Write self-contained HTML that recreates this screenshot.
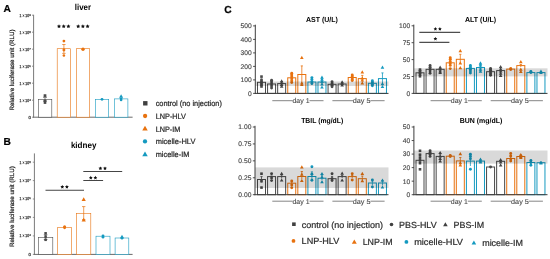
<!DOCTYPE html>
<html><head><meta charset="utf-8"><style>
html,body{margin:0;padding:0;background:#fff;width:550px;height:259px;overflow:hidden;}
svg{display:block;font-family:"Liberation Sans", sans-serif;will-change:transform;text-rendering:geometricPrecision;}
</style></head><body>
<svg width="550" height="259" viewBox="0 0 550 259" font-family="Liberation Sans, sans-serif">
<rect width="550" height="259" fill="#fff"/>
<text x="3.4" y="12.1" font-size="10.2" font-weight="bold" fill="#000" text-anchor="start" stroke="#000" stroke-width="0.2" >A</text>
<text x="74.8" y="10.0" font-size="8.6" font-weight="bold" fill="#000" text-anchor="start" textLength="16.2" lengthAdjust="spacingAndGlyphs" >liver</text>
<text transform="translate(13.6,69.9) rotate(-90)" font-size="6.2" fill="#222" stroke="#222" stroke-width="0.22" text-anchor="middle" textLength="81" lengthAdjust="spacingAndGlyphs">Relative luciferase unit (RLU)</text>
<line x1="33.6" y1="14.8" x2="33.6" y2="117.7" stroke="#7a7a7a" stroke-width="1"/>
<line x1="33.1" y1="117.2" x2="132.6" y2="117.2" stroke="#6a6a6a" stroke-width="1"/>
<line x1="32.0" y1="15.2" x2="33.6" y2="15.2" stroke="#7a7a7a" stroke-width="0.8"/>
<text x="19.6" y="16.65" font-size="4.3" fill="#444" stroke="#444" stroke-width="0.28" textLength="9.5" lengthAdjust="spacingAndGlyphs">1 × 10</text>
<text x="29.2" y="15.6" font-size="2.8" fill="#444" stroke="#444" stroke-width="0.22">9</text>
<line x1="32.0" y1="32.2" x2="33.6" y2="32.2" stroke="#7a7a7a" stroke-width="0.8"/>
<text x="19.6" y="33.650000000000006" font-size="4.3" fill="#444" stroke="#444" stroke-width="0.28" textLength="9.5" lengthAdjust="spacingAndGlyphs">1 × 10</text>
<text x="29.2" y="32.6" font-size="2.8" fill="#444" stroke="#444" stroke-width="0.22">8</text>
<line x1="32.0" y1="49.2" x2="33.6" y2="49.2" stroke="#7a7a7a" stroke-width="0.8"/>
<text x="19.6" y="50.650000000000006" font-size="4.3" fill="#444" stroke="#444" stroke-width="0.28" textLength="9.5" lengthAdjust="spacingAndGlyphs">1 × 10</text>
<text x="29.2" y="49.6" font-size="2.8" fill="#444" stroke="#444" stroke-width="0.22">7</text>
<line x1="32.0" y1="66.2" x2="33.6" y2="66.2" stroke="#7a7a7a" stroke-width="0.8"/>
<text x="19.6" y="67.65" font-size="4.3" fill="#444" stroke="#444" stroke-width="0.28" textLength="9.5" lengthAdjust="spacingAndGlyphs">1 × 10</text>
<text x="29.2" y="66.60000000000001" font-size="2.8" fill="#444" stroke="#444" stroke-width="0.22">6</text>
<line x1="32.0" y1="83.2" x2="33.6" y2="83.2" stroke="#7a7a7a" stroke-width="0.8"/>
<text x="19.6" y="84.65" font-size="4.3" fill="#444" stroke="#444" stroke-width="0.28" textLength="9.5" lengthAdjust="spacingAndGlyphs">1 × 10</text>
<text x="29.2" y="83.60000000000001" font-size="2.8" fill="#444" stroke="#444" stroke-width="0.22">5</text>
<line x1="32.0" y1="100.2" x2="33.6" y2="100.2" stroke="#7a7a7a" stroke-width="0.8"/>
<text x="19.6" y="101.65" font-size="4.3" fill="#444" stroke="#444" stroke-width="0.28" textLength="9.5" lengthAdjust="spacingAndGlyphs">1 × 10</text>
<text x="29.2" y="100.60000000000001" font-size="2.8" fill="#444" stroke="#444" stroke-width="0.22">4</text>
<line x1="32.0" y1="117.2" x2="33.6" y2="117.2" stroke="#7a7a7a" stroke-width="0.8"/>
<text x="30.8" y="118.60000000000001" font-size="4.3" fill="#444" stroke="#444" stroke-width="0.28" text-anchor="end">0</text>
<rect x="38.4" y="99.3" width="13.399999999999999" height="17.900000000000006" fill="#fff" stroke="#4a4a4a" stroke-width="0.6"/>
<rect x="57.2" y="48.7" width="13.399999999999991" height="68.5" fill="#fff" stroke="#E8720F" stroke-width="0.6"/>
<rect x="76.4" y="48.7" width="13.299999999999997" height="68.5" fill="#fff" stroke="#E8720F" stroke-width="0.6"/>
<rect x="95.4" y="99.3" width="13.299999999999997" height="17.900000000000006" fill="#fff" stroke="#159AC0" stroke-width="0.6"/>
<rect x="114.4" y="98.9" width="13.5" height="18.299999999999997" fill="#fff" stroke="#159AC0" stroke-width="0.6"/>
<line x1="63.9" y1="44.5" x2="63.9" y2="53.4" stroke="#E8720F" stroke-width="0.7"/>
<line x1="62.199999999999996" y1="44.5" x2="65.6" y2="44.5" stroke="#E8720F" stroke-width="0.7"/>
<line x1="62.199999999999996" y1="53.4" x2="65.6" y2="53.4" stroke="#E8720F" stroke-width="0.7"/>
<line x1="45.0" y1="97.3" x2="45.0" y2="101.0" stroke="#4a4a4a" stroke-width="0.7"/>
<line x1="43.0" y1="97.3" x2="47.0" y2="97.3" stroke="#4a4a4a" stroke-width="0.7"/>
<line x1="43.0" y1="101.0" x2="47.0" y2="101.0" stroke="#4a4a4a" stroke-width="0.7"/>
<rect x="43.65" y="94.25" width="2.7" height="2.7" fill="#4a4a4a"/>
<rect x="43.695" y="99.49499999999999" width="2.61" height="2.61" fill="#4a4a4a"/>
<rect x="43.695" y="101.29499999999999" width="2.61" height="2.61" fill="#4a4a4a"/>
<circle cx="63.9" cy="41.1" r="1.4" fill="#E8720F"/>
<circle cx="63.9" cy="50.0" r="1.45" fill="#E8720F"/>
<circle cx="63.9" cy="55.5" r="1.3" fill="#E8720F"/>
<circle cx="83.0" cy="49.2" r="1.7" fill="#E8720F"/>
<circle cx="102.0" cy="99.3" r="1.4" fill="#159AC0"/>
<polygon points="119.1,97.74 123.1,97.74 121.1,94.26" fill="#159AC0"/>
<circle cx="121.1" cy="98.8" r="1.4" fill="#159AC0"/>
<circle cx="121.1" cy="100.0" r="1.3" fill="#159AC0"/>
<polygon points="59.00,24.17 59.63,25.45 61.04,25.65 60.02,26.65 60.26,28.05 59.00,27.39 57.74,28.05 57.98,26.65 56.96,25.65 58.37,25.45" fill="#111"/>
<polygon points="63.70,24.17 64.33,25.45 65.74,25.65 64.72,26.65 64.96,28.05 63.70,27.39 62.44,28.05 62.68,26.65 61.66,25.65 63.07,25.45" fill="#111"/>
<polygon points="68.40,24.17 69.03,25.45 70.44,25.65 69.42,26.65 69.66,28.05 68.40,27.39 67.14,28.05 67.38,26.65 66.36,25.65 67.77,25.45" fill="#111"/>
<polygon points="78.20,24.17 78.83,25.45 80.24,25.65 79.22,26.65 79.46,28.05 78.20,27.39 76.94,28.05 77.18,26.65 76.16,25.65 77.57,25.45" fill="#111"/>
<polygon points="82.90,24.17 83.53,25.45 84.94,25.65 83.92,26.65 84.16,28.05 82.90,27.39 81.64,28.05 81.88,26.65 80.86,25.65 82.27,25.45" fill="#111"/>
<polygon points="87.60,24.17 88.23,25.45 89.64,25.65 88.62,26.65 88.86,28.05 87.60,27.39 86.34,28.05 86.58,26.65 85.56,25.65 86.97,25.45" fill="#111"/>
<text x="3.4" y="144.5" font-size="10.2" font-weight="bold" fill="#000" text-anchor="start" stroke="#000" stroke-width="0.2" >B</text>
<text x="70.9" y="147.7" font-size="8.6" font-weight="bold" fill="#000" text-anchor="start" textLength="25.5" lengthAdjust="spacingAndGlyphs" >kidney</text>
<text transform="translate(13.6,206.6) rotate(-90)" font-size="6.2" fill="#222" stroke="#222" stroke-width="0.22" text-anchor="middle" textLength="81" lengthAdjust="spacingAndGlyphs">Relative luciferase unit (RLU)</text>
<line x1="34.4" y1="153.4" x2="34.4" y2="254.9" stroke="#7a7a7a" stroke-width="1"/>
<line x1="33.9" y1="254.4" x2="132.6" y2="254.4" stroke="#6a6a6a" stroke-width="1"/>
<line x1="32.8" y1="162.2" x2="34.4" y2="162.2" stroke="#7a7a7a" stroke-width="0.8"/>
<text x="19.6" y="163.64999999999998" font-size="4.3" fill="#444" stroke="#444" stroke-width="0.28" textLength="9.5" lengthAdjust="spacingAndGlyphs">1 × 10</text>
<text x="29.2" y="162.6" font-size="2.8" fill="#444" stroke="#444" stroke-width="0.22">8</text>
<line x1="32.8" y1="180.6" x2="34.4" y2="180.6" stroke="#7a7a7a" stroke-width="0.8"/>
<text x="19.6" y="182.04999999999998" font-size="4.3" fill="#444" stroke="#444" stroke-width="0.28" textLength="9.5" lengthAdjust="spacingAndGlyphs">1 × 10</text>
<text x="29.2" y="181.0" font-size="2.8" fill="#444" stroke="#444" stroke-width="0.22">7</text>
<line x1="32.8" y1="199.0" x2="34.4" y2="199.0" stroke="#7a7a7a" stroke-width="0.8"/>
<text x="19.6" y="200.45" font-size="4.3" fill="#444" stroke="#444" stroke-width="0.28" textLength="9.5" lengthAdjust="spacingAndGlyphs">1 × 10</text>
<text x="29.2" y="199.4" font-size="2.8" fill="#444" stroke="#444" stroke-width="0.22">6</text>
<line x1="32.8" y1="217.4" x2="34.4" y2="217.4" stroke="#7a7a7a" stroke-width="0.8"/>
<text x="19.6" y="218.85" font-size="4.3" fill="#444" stroke="#444" stroke-width="0.28" textLength="9.5" lengthAdjust="spacingAndGlyphs">1 × 10</text>
<text x="29.2" y="217.8" font-size="2.8" fill="#444" stroke="#444" stroke-width="0.22">5</text>
<line x1="32.8" y1="235.9" x2="34.4" y2="235.9" stroke="#7a7a7a" stroke-width="0.8"/>
<text x="19.6" y="237.35" font-size="4.3" fill="#444" stroke="#444" stroke-width="0.28" textLength="9.5" lengthAdjust="spacingAndGlyphs">1 × 10</text>
<text x="29.2" y="236.3" font-size="2.8" fill="#444" stroke="#444" stroke-width="0.22">4</text>
<line x1="32.8" y1="254.4" x2="34.4" y2="254.4" stroke="#7a7a7a" stroke-width="0.8"/>
<text x="30.8" y="255.8" font-size="4.3" fill="#444" stroke="#444" stroke-width="0.28" text-anchor="end">0</text>
<rect x="38.5" y="237.5" width="14.299999999999997" height="16.900000000000006" fill="#fff" stroke="#4a4a4a" stroke-width="0.6"/>
<rect x="57.7" y="227.4" width="13.899999999999991" height="27.0" fill="#fff" stroke="#E8720F" stroke-width="0.6"/>
<rect x="76.6" y="213.3" width="14.200000000000003" height="41.099999999999994" fill="#fff" stroke="#E8720F" stroke-width="0.6"/>
<rect x="96.0" y="236.2" width="14.0" height="18.200000000000017" fill="#fff" stroke="#159AC0" stroke-width="0.6"/>
<rect x="115.1" y="238.0" width="13.700000000000017" height="16.400000000000006" fill="#fff" stroke="#159AC0" stroke-width="0.6"/>
<line x1="83.7" y1="206.6" x2="83.7" y2="219.6" stroke="#E8720F" stroke-width="0.7"/>
<line x1="82.0" y1="206.6" x2="85.4" y2="206.6" stroke="#E8720F" stroke-width="0.7"/>
<line x1="82.0" y1="219.6" x2="85.4" y2="219.6" stroke="#E8720F" stroke-width="0.7"/>
<line x1="45.6" y1="234.8" x2="45.6" y2="239.5" stroke="#4a4a4a" stroke-width="0.7"/>
<line x1="43.800000000000004" y1="234.8" x2="47.4" y2="234.8" stroke="#4a4a4a" stroke-width="0.7"/>
<line x1="43.800000000000004" y1="239.5" x2="47.4" y2="239.5" stroke="#4a4a4a" stroke-width="0.7"/>
<rect x="44.34" y="232.04000000000002" width="2.52" height="2.52" fill="#4a4a4a"/>
<rect x="44.34" y="235.34" width="2.52" height="2.52" fill="#4a4a4a"/>
<rect x="44.34" y="238.54000000000002" width="2.52" height="2.52" fill="#4a4a4a"/>
<circle cx="64.6" cy="226.8" r="1.5" fill="#E8720F"/>
<circle cx="64.6" cy="227.8" r="1.4" fill="#E8720F"/>
<polygon points="81.575,201.04874999999998 85.825,201.04874999999998 83.7,197.35125" fill="#E8720F"/>
<polygon points="81.575,221.44875 85.825,221.44875 83.7,217.75125" fill="#E8720F"/>
<circle cx="103.0" cy="236.0" r="1.45" fill="#159AC0"/>
<circle cx="103.0" cy="237.2" r="1.3" fill="#159AC0"/>
<polygon points="120.0,238.34 124.0,238.34 122.0,234.85999999999999" fill="#159AC0"/>
<circle cx="122.0" cy="238.2" r="1.3" fill="#159AC0"/>
<line x1="83.3" y1="171.5" x2="122.2" y2="171.5" stroke="#454545" stroke-width="1"/>
<polygon points="100.40,166.40 100.99,167.59 102.30,167.78 101.35,168.71 101.58,170.02 100.40,169.40 99.22,170.02 99.45,168.71 98.50,167.78 99.81,167.59" fill="#111"/>
<polygon points="105.00,166.40 105.59,167.59 106.90,167.78 105.95,168.71 106.18,170.02 105.00,169.40 103.82,170.02 104.05,168.71 103.10,167.78 104.41,167.59" fill="#111"/>
<line x1="83.3" y1="180.5" x2="103.1" y2="180.5" stroke="#454545" stroke-width="1"/>
<polygon points="90.80,175.80 91.39,176.99 92.70,177.18 91.75,178.11 91.98,179.42 90.80,178.80 89.62,179.42 89.85,178.11 88.90,177.18 90.21,176.99" fill="#111"/>
<polygon points="95.40,175.80 95.99,176.99 97.30,177.18 96.35,178.11 96.58,179.42 95.40,178.80 94.22,179.42 94.45,178.11 93.50,177.18 94.81,176.99" fill="#111"/>
<line x1="45.5" y1="190.25" x2="84.0" y2="190.25" stroke="#454545" stroke-width="1"/>
<polygon points="62.30,184.90 62.89,186.09 64.20,186.28 63.25,187.21 63.48,188.52 62.30,187.90 61.12,188.52 61.35,187.21 60.40,186.28 61.71,186.09" fill="#111"/>
<polygon points="66.90,184.90 67.49,186.09 68.80,186.28 67.85,187.21 68.08,188.52 66.90,187.90 65.72,188.52 65.95,187.21 65.00,186.28 66.31,186.09" fill="#111"/>
<rect x="143.10000000000002" y="101.1" width="4.4" height="4.4" fill="#404040"/>
<circle cx="145.1" cy="116.0" r="2.15" fill="#E8720F"/>
<polygon points="142.25,130.4925 147.75,130.4925 145.0,125.7075" fill="#E8720F"/>
<circle cx="145.0" cy="141.4" r="2.15" fill="#159AC0"/>
<polygon points="142.25,156.19250000000002 147.75,156.19250000000002 145.0,151.4075" fill="#159AC0"/>
<text x="155.7" y="106.2" font-size="7.7" font-weight="normal" fill="#2b2b2b" text-anchor="start" stroke="#2b2b2b" stroke-width="0.24" textLength="66.2" lengthAdjust="spacingAndGlyphs" >control (no injection)</text>
<text x="155.7" y="118.9" font-size="7.7" font-weight="normal" fill="#2b2b2b" text-anchor="start" stroke="#2b2b2b" stroke-width="0.24" textLength="30.3" lengthAdjust="spacingAndGlyphs" >LNP-HLV</text>
<text x="155.7" y="131.6" font-size="7.7" font-weight="normal" fill="#2b2b2b" text-anchor="start" stroke="#2b2b2b" stroke-width="0.24" textLength="24.7" lengthAdjust="spacingAndGlyphs" >LNP-IM</text>
<text x="155.7" y="144.3" font-size="7.7" font-weight="normal" fill="#2b2b2b" text-anchor="start" stroke="#2b2b2b" stroke-width="0.24" textLength="39.7" lengthAdjust="spacingAndGlyphs" >micelle-HLV</text>
<text x="155.7" y="156.9" font-size="7.7" font-weight="normal" fill="#2b2b2b" text-anchor="start" stroke="#2b2b2b" stroke-width="0.24" textLength="33.7" lengthAdjust="spacingAndGlyphs" >micelle-IM</text>
<text x="224.2" y="12.5" font-size="10.2" font-weight="bold" fill="#000" text-anchor="start" stroke="#000" stroke-width="0.2" >C</text>
<rect x="257.5" y="82.3" width="8.0" height="11.100000000000009" fill="#fff" stroke="#4a4a4a" stroke-width="1"/>
<rect x="267.58" y="84.0" width="8.0" height="9.400000000000006" fill="#fff" stroke="#4a4a4a" stroke-width="1"/>
<rect x="277.66" y="83.6" width="8.0" height="9.800000000000011" fill="#fff" stroke="#4a4a4a" stroke-width="1"/>
<rect x="287.74" y="77.8" width="8.0" height="15.600000000000009" fill="#fff" stroke="#E8720F" stroke-width="1"/>
<rect x="297.82" y="74.5" width="8.0" height="18.900000000000006" fill="#fff" stroke="#E8720F" stroke-width="1"/>
<rect x="307.9" y="82.0" width="8.0" height="11.400000000000006" fill="#fff" stroke="#159AC0" stroke-width="1"/>
<rect x="317.98" y="82.0" width="8.0" height="11.400000000000006" fill="#fff" stroke="#159AC0" stroke-width="1"/>
<rect x="328.06" y="84.3" width="8.0" height="9.100000000000009" fill="#fff" stroke="#4a4a4a" stroke-width="1"/>
<rect x="338.14" y="84.0" width="8.0" height="9.400000000000006" fill="#fff" stroke="#4a4a4a" stroke-width="1"/>
<rect x="348.22" y="77.5" width="8.0" height="15.900000000000006" fill="#fff" stroke="#E8720F" stroke-width="1"/>
<rect x="358.3" y="78.6" width="8.0" height="14.800000000000011" fill="#fff" stroke="#E8720F" stroke-width="1"/>
<rect x="368.38" y="83.3" width="8.0" height="10.100000000000009" fill="#fff" stroke="#159AC0" stroke-width="1"/>
<rect x="378.46000000000004" y="78.6" width="8.0" height="14.800000000000011" fill="#fff" stroke="#159AC0" stroke-width="1"/>
<line x1="261.5" y1="78.8" x2="261.5" y2="85.6" stroke="#4a4a4a" stroke-width="0.8"/>
<line x1="260.4" y1="78.8" x2="262.6" y2="78.8" stroke="#4a4a4a" stroke-width="0.8"/>
<line x1="271.58" y1="81" x2="271.58" y2="87" stroke="#4a4a4a" stroke-width="0.8"/>
<line x1="270.47999999999996" y1="81" x2="272.68" y2="81" stroke="#4a4a4a" stroke-width="0.8"/>
<line x1="281.66" y1="81.5" x2="281.66" y2="85.5" stroke="#4a4a4a" stroke-width="0.8"/>
<line x1="280.56" y1="81.5" x2="282.76000000000005" y2="81.5" stroke="#4a4a4a" stroke-width="0.8"/>
<line x1="291.74" y1="74.2" x2="291.74" y2="81.4" stroke="#E8720F" stroke-width="0.8"/>
<line x1="290.64" y1="74.2" x2="292.84000000000003" y2="74.2" stroke="#E8720F" stroke-width="0.8"/>
<line x1="301.82" y1="65.9" x2="301.82" y2="83" stroke="#E8720F" stroke-width="0.8"/>
<line x1="300.71999999999997" y1="65.9" x2="302.92" y2="65.9" stroke="#E8720F" stroke-width="0.8"/>
<line x1="311.9" y1="79" x2="311.9" y2="85" stroke="#159AC0" stroke-width="0.8"/>
<line x1="310.79999999999995" y1="79" x2="313.0" y2="79" stroke="#159AC0" stroke-width="0.8"/>
<line x1="321.98" y1="79" x2="321.98" y2="85" stroke="#159AC0" stroke-width="0.8"/>
<line x1="320.88" y1="79" x2="323.08000000000004" y2="79" stroke="#159AC0" stroke-width="0.8"/>
<line x1="332.06" y1="82.5" x2="332.06" y2="86" stroke="#4a4a4a" stroke-width="0.8"/>
<line x1="330.96" y1="82.5" x2="333.16" y2="82.5" stroke="#4a4a4a" stroke-width="0.8"/>
<line x1="342.14" y1="82.5" x2="342.14" y2="85.5" stroke="#4a4a4a" stroke-width="0.8"/>
<line x1="341.03999999999996" y1="82.5" x2="343.24" y2="82.5" stroke="#4a4a4a" stroke-width="0.8"/>
<line x1="352.22" y1="75.5" x2="352.22" y2="79.5" stroke="#E8720F" stroke-width="0.8"/>
<line x1="351.12" y1="75.5" x2="353.32000000000005" y2="75.5" stroke="#E8720F" stroke-width="0.8"/>
<line x1="362.3" y1="75.4" x2="362.3" y2="81.8" stroke="#E8720F" stroke-width="0.8"/>
<line x1="361.2" y1="75.4" x2="363.40000000000003" y2="75.4" stroke="#E8720F" stroke-width="0.8"/>
<line x1="372.38" y1="81.5" x2="372.38" y2="85" stroke="#159AC0" stroke-width="0.8"/>
<line x1="371.28" y1="81.5" x2="373.48" y2="81.5" stroke="#159AC0" stroke-width="0.8"/>
<line x1="382.46000000000004" y1="72.9" x2="382.46000000000004" y2="84.3" stroke="#159AC0" stroke-width="0.8"/>
<line x1="381.36" y1="72.9" x2="383.56000000000006" y2="72.9" stroke="#159AC0" stroke-width="0.8"/>
<rect x="260.195" y="75.29499999999999" width="2.61" height="2.61" fill="#4a4a4a"/>
<rect x="260.195" y="78.99499999999999" width="2.61" height="2.61" fill="#4a4a4a"/>
<rect x="260.195" y="80.49499999999999" width="2.61" height="2.61" fill="#4a4a4a"/>
<rect x="260.195" y="81.99499999999999" width="2.61" height="2.61" fill="#4a4a4a"/>
<rect x="260.195" y="83.49499999999999" width="2.61" height="2.61" fill="#4a4a4a"/>
<rect x="260.195" y="85.195" width="2.61" height="2.61" fill="#4a4a4a"/>
<circle cx="271.58" cy="80.3" r="1.45" fill="#4a4a4a"/>
<circle cx="271.58" cy="82.0" r="1.45" fill="#4a4a4a"/>
<circle cx="271.58" cy="84.0" r="1.45" fill="#4a4a4a"/>
<circle cx="271.58" cy="86.0" r="1.45" fill="#4a4a4a"/>
<circle cx="271.58" cy="88.0" r="1.45" fill="#4a4a4a"/>
<polygon points="279.8475,82.376875 283.4725,82.376875 281.66,79.223125" fill="#4a4a4a"/>
<polygon points="279.8475,84.176875 283.4725,84.176875 281.66,81.023125" fill="#4a4a4a"/>
<polygon points="279.8475,85.976875 283.4725,85.976875 281.66,82.823125" fill="#4a4a4a"/>
<polygon points="279.8475,87.776875 283.4725,87.776875 281.66,84.623125" fill="#4a4a4a"/>
<circle cx="291.74" cy="73.3" r="1.45" fill="#E8720F"/>
<circle cx="291.74" cy="75.0" r="1.45" fill="#E8720F"/>
<circle cx="291.74" cy="76.8" r="1.45" fill="#E8720F"/>
<circle cx="291.74" cy="78.8" r="1.45" fill="#E8720F"/>
<circle cx="291.74" cy="80.8" r="1.45" fill="#E8720F"/>
<circle cx="291.74" cy="82.5" r="1.45" fill="#E8720F"/>
<polygon points="300.0075,58.876875 303.6325,58.876875 301.82,55.723124999999996" fill="#E8720F"/>
<polygon points="300.0075,84.576875 303.6325,84.576875 301.82,81.423125" fill="#E8720F"/>
<polygon points="300.0075,86.076875 303.6325,86.076875 301.82,82.923125" fill="#E8720F"/>
<circle cx="311.9" cy="77.6" r="1.45" fill="#159AC0"/>
<circle cx="311.9" cy="79.5" r="1.45" fill="#159AC0"/>
<circle cx="311.9" cy="81.5" r="1.45" fill="#159AC0"/>
<circle cx="311.9" cy="83.5" r="1.45" fill="#159AC0"/>
<polygon points="320.1675,78.776875 323.7925,78.776875 321.98,75.623125" fill="#159AC0"/>
<polygon points="320.1675,80.776875 323.7925,80.776875 321.98,77.623125" fill="#159AC0"/>
<polygon points="320.1675,82.776875 323.7925,82.776875 321.98,79.623125" fill="#159AC0"/>
<polygon points="320.1675,85.576875 323.7925,85.576875 321.98,82.423125" fill="#159AC0"/>
<polygon points="320.1675,88.576875 323.7925,88.576875 321.98,85.423125" fill="#159AC0"/>
<circle cx="332.06" cy="81.8" r="1.45" fill="#4a4a4a"/>
<circle cx="332.06" cy="83.5" r="1.45" fill="#4a4a4a"/>
<circle cx="332.06" cy="85.2" r="1.45" fill="#4a4a4a"/>
<circle cx="332.06" cy="86.8" r="1.45" fill="#4a4a4a"/>
<polygon points="340.3275,83.376875 343.9525,83.376875 342.14,80.223125" fill="#4a4a4a"/>
<polygon points="340.3275,84.876875 343.9525,84.876875 342.14,81.723125" fill="#4a4a4a"/>
<polygon points="340.3275,86.576875 343.9525,86.576875 342.14,83.423125" fill="#4a4a4a"/>
<circle cx="352.22" cy="75.0" r="1.45" fill="#E8720F"/>
<circle cx="352.22" cy="76.5" r="1.45" fill="#E8720F"/>
<circle cx="352.22" cy="78.0" r="1.45" fill="#E8720F"/>
<circle cx="352.22" cy="79.5" r="1.45" fill="#E8720F"/>
<circle cx="352.22" cy="80.6" r="1.45" fill="#E8720F"/>
<polygon points="360.4875,73.476875 364.1125,73.476875 362.3,70.323125" fill="#E8720F"/>
<polygon points="360.4875,79.576875 364.1125,79.576875 362.3,76.423125" fill="#E8720F"/>
<polygon points="360.4875,81.576875 364.1125,81.576875 362.3,78.423125" fill="#E8720F"/>
<polygon points="360.4875,84.476875 364.1125,84.476875 362.3,81.323125" fill="#E8720F"/>
<circle cx="372.38" cy="80.8" r="1.45" fill="#159AC0"/>
<circle cx="372.38" cy="82.5" r="1.45" fill="#159AC0"/>
<circle cx="372.38" cy="84.3" r="1.45" fill="#159AC0"/>
<circle cx="372.38" cy="85.7" r="1.45" fill="#159AC0"/>
<polygon points="380.64750000000004,68.676875 384.27250000000004,68.676875 382.46000000000004,65.523125" fill="#159AC0"/>
<polygon points="380.64750000000004,85.176875 384.27250000000004,85.176875 382.46000000000004,82.023125" fill="#159AC0"/>
<polygon points="380.64750000000004,88.076875 384.27250000000004,88.076875 382.46000000000004,84.923125" fill="#159AC0"/>
<rect x="255.3" y="81.5" width="133.2" height="4.5" fill="#000" fill-opacity="0.15"/>
<line x1="255.3" y1="24.7" x2="255.3" y2="93.9" stroke="#3c3c3c" stroke-width="1"/>
<line x1="254.8" y1="93.4" x2="388.5" y2="93.4" stroke="#3c3c3c" stroke-width="1"/>
<line x1="253.10000000000002" y1="25.9" x2="255.3" y2="25.9" stroke="#3c3c3c" stroke-width="0.9"/>
<text x="251.70000000000002" y="28.25" font-size="6.7" font-weight="normal" fill="#4a4a4a" text-anchor="end" stroke="#4a4a4a" stroke-width="0.15" >500</text>
<line x1="253.10000000000002" y1="39.4" x2="255.3" y2="39.4" stroke="#3c3c3c" stroke-width="0.9"/>
<text x="251.70000000000002" y="41.75" font-size="6.7" font-weight="normal" fill="#4a4a4a" text-anchor="end" stroke="#4a4a4a" stroke-width="0.15" >400</text>
<line x1="253.10000000000002" y1="52.9" x2="255.3" y2="52.9" stroke="#3c3c3c" stroke-width="0.9"/>
<text x="251.70000000000002" y="55.25" font-size="6.7" font-weight="normal" fill="#4a4a4a" text-anchor="end" stroke="#4a4a4a" stroke-width="0.15" >300</text>
<line x1="253.10000000000002" y1="66.4" x2="255.3" y2="66.4" stroke="#3c3c3c" stroke-width="0.9"/>
<text x="251.70000000000002" y="68.75" font-size="6.7" font-weight="normal" fill="#4a4a4a" text-anchor="end" stroke="#4a4a4a" stroke-width="0.15" >200</text>
<line x1="253.10000000000002" y1="79.9" x2="255.3" y2="79.9" stroke="#3c3c3c" stroke-width="0.9"/>
<text x="251.70000000000002" y="82.25" font-size="6.7" font-weight="normal" fill="#4a4a4a" text-anchor="end" stroke="#4a4a4a" stroke-width="0.15" >100</text>
<line x1="253.10000000000002" y1="93.4" x2="255.3" y2="93.4" stroke="#3c3c3c" stroke-width="0.9"/>
<text x="251.70000000000002" y="95.75" font-size="6.7" font-weight="normal" fill="#4a4a4a" text-anchor="end" stroke="#4a4a4a" stroke-width="0.15" >0</text>
<line x1="272.3" y1="100.7" x2="292.8" y2="100.7" stroke="#666" stroke-width="0.8"/>
<line x1="309.5" y1="100.7" x2="323.5" y2="100.7" stroke="#666" stroke-width="0.8"/>
<text x="292.5" y="103.10000000000001" font-size="7" font-weight="normal" fill="#4a4a4a" text-anchor="start" stroke="#4a4a4a" stroke-width="0.12" textLength="17.0" lengthAdjust="spacingAndGlyphs" >day 1</text>
<line x1="332.4" y1="100.7" x2="353.1" y2="100.7" stroke="#666" stroke-width="0.8"/>
<line x1="370.5" y1="100.7" x2="384.6" y2="100.7" stroke="#666" stroke-width="0.8"/>
<text x="352.8" y="103.10000000000001" font-size="7" font-weight="normal" fill="#4a4a4a" text-anchor="start" stroke="#4a4a4a" stroke-width="0.12" textLength="17.69999999999999" lengthAdjust="spacingAndGlyphs" >day 5</text>
<rect x="416.0" y="72.8" width="8.0" height="20.60000000000001" fill="#fff" stroke="#4a4a4a" stroke-width="1"/>
<rect x="426.08" y="69.3" width="8.0" height="24.10000000000001" fill="#fff" stroke="#4a4a4a" stroke-width="1"/>
<rect x="436.16" y="69.3" width="8.0" height="24.10000000000001" fill="#fff" stroke="#4a4a4a" stroke-width="1"/>
<rect x="446.24" y="62.8" width="8.0" height="30.60000000000001" fill="#fff" stroke="#E8720F" stroke-width="1"/>
<rect x="456.32" y="59.3" width="8.0" height="34.10000000000001" fill="#fff" stroke="#E8720F" stroke-width="1"/>
<rect x="466.4" y="68.4" width="8.0" height="25.0" fill="#fff" stroke="#159AC0" stroke-width="1"/>
<rect x="476.48" y="67.5" width="8.0" height="25.900000000000006" fill="#fff" stroke="#159AC0" stroke-width="1"/>
<rect x="486.56" y="71.7" width="8.0" height="21.700000000000003" fill="#fff" stroke="#4a4a4a" stroke-width="1"/>
<rect x="496.64" y="70.6" width="8.0" height="22.80000000000001" fill="#fff" stroke="#4a4a4a" stroke-width="1"/>
<rect x="506.72" y="69.1" width="8.0" height="24.30000000000001" fill="#fff" stroke="#E8720F" stroke-width="1"/>
<rect x="516.8" y="65.6" width="8.0" height="27.80000000000001" fill="#fff" stroke="#E8720F" stroke-width="1"/>
<rect x="526.88" y="72.6" width="8.0" height="20.80000000000001" fill="#fff" stroke="#159AC0" stroke-width="1"/>
<rect x="536.96" y="72.6" width="8.0" height="20.80000000000001" fill="#fff" stroke="#159AC0" stroke-width="1"/>
<line x1="420.0" y1="70.5" x2="420.0" y2="75" stroke="#4a4a4a" stroke-width="0.8"/>
<line x1="418.9" y1="70.5" x2="421.1" y2="70.5" stroke="#4a4a4a" stroke-width="0.8"/>
<line x1="430.08" y1="67" x2="430.08" y2="71.5" stroke="#4a4a4a" stroke-width="0.8"/>
<line x1="428.97999999999996" y1="67" x2="431.18" y2="67" stroke="#4a4a4a" stroke-width="0.8"/>
<line x1="440.16" y1="68" x2="440.16" y2="71" stroke="#4a4a4a" stroke-width="0.8"/>
<line x1="439.06" y1="68" x2="441.26000000000005" y2="68" stroke="#4a4a4a" stroke-width="0.8"/>
<line x1="450.24" y1="59.5" x2="450.24" y2="66" stroke="#E8720F" stroke-width="0.8"/>
<line x1="449.14" y1="59.5" x2="451.34000000000003" y2="59.5" stroke="#E8720F" stroke-width="0.8"/>
<line x1="460.32" y1="54.3" x2="460.32" y2="64" stroke="#E8720F" stroke-width="0.8"/>
<line x1="459.21999999999997" y1="54.3" x2="461.42" y2="54.3" stroke="#E8720F" stroke-width="0.8"/>
<line x1="470.4" y1="66.5" x2="470.4" y2="70.5" stroke="#159AC0" stroke-width="0.8"/>
<line x1="469.29999999999995" y1="66.5" x2="471.5" y2="66.5" stroke="#159AC0" stroke-width="0.8"/>
<line x1="480.48" y1="64.5" x2="480.48" y2="70.5" stroke="#159AC0" stroke-width="0.8"/>
<line x1="479.38" y1="64.5" x2="481.58000000000004" y2="64.5" stroke="#159AC0" stroke-width="0.8"/>
<line x1="490.56" y1="69.5" x2="490.56" y2="74" stroke="#4a4a4a" stroke-width="0.8"/>
<line x1="489.46" y1="69.5" x2="491.66" y2="69.5" stroke="#4a4a4a" stroke-width="0.8"/>
<line x1="500.64" y1="67.5" x2="500.64" y2="73.5" stroke="#4a4a4a" stroke-width="0.8"/>
<line x1="499.53999999999996" y1="67.5" x2="501.74" y2="67.5" stroke="#4a4a4a" stroke-width="0.8"/>
<line x1="510.72" y1="68.5" x2="510.72" y2="70" stroke="#E8720F" stroke-width="0.8"/>
<line x1="509.62" y1="68.5" x2="511.82000000000005" y2="68.5" stroke="#E8720F" stroke-width="0.8"/>
<line x1="520.8" y1="64.5" x2="520.8" y2="67" stroke="#E8720F" stroke-width="0.8"/>
<line x1="519.6999999999999" y1="64.5" x2="521.9" y2="64.5" stroke="#E8720F" stroke-width="0.8"/>
<line x1="530.88" y1="71.5" x2="530.88" y2="73.5" stroke="#159AC0" stroke-width="0.8"/>
<line x1="529.78" y1="71.5" x2="531.98" y2="71.5" stroke="#159AC0" stroke-width="0.8"/>
<line x1="540.96" y1="71.5" x2="540.96" y2="73.5" stroke="#159AC0" stroke-width="0.8"/>
<line x1="539.86" y1="71.5" x2="542.0600000000001" y2="71.5" stroke="#159AC0" stroke-width="0.8"/>
<rect x="418.695" y="68.29499999999999" width="2.61" height="2.61" fill="#4a4a4a"/>
<rect x="418.695" y="69.895" width="2.61" height="2.61" fill="#4a4a4a"/>
<rect x="418.695" y="71.49499999999999" width="2.61" height="2.61" fill="#4a4a4a"/>
<rect x="418.695" y="73.195" width="2.61" height="2.61" fill="#4a4a4a"/>
<rect x="418.695" y="74.99499999999999" width="2.61" height="2.61" fill="#4a4a4a"/>
<circle cx="430.08" cy="65.4" r="1.45" fill="#4a4a4a"/>
<circle cx="430.08" cy="67.2" r="1.45" fill="#4a4a4a"/>
<circle cx="430.08" cy="69.0" r="1.45" fill="#4a4a4a"/>
<circle cx="430.08" cy="71.0" r="1.45" fill="#4a4a4a"/>
<circle cx="430.08" cy="73.2" r="1.45" fill="#4a4a4a"/>
<polygon points="438.3475,68.676875 441.9725,68.676875 440.16,65.523125" fill="#4a4a4a"/>
<polygon points="438.3475,70.576875 441.9725,70.576875 440.16,67.423125" fill="#4a4a4a"/>
<polygon points="438.3475,72.376875 441.9725,72.376875 440.16,69.223125" fill="#4a4a4a"/>
<polygon points="438.3475,73.976875 441.9725,73.976875 440.16,70.823125" fill="#4a4a4a"/>
<circle cx="450.24" cy="57.7" r="1.45" fill="#E8720F"/>
<circle cx="450.24" cy="59.3" r="1.45" fill="#E8720F"/>
<circle cx="450.24" cy="61.5" r="1.45" fill="#E8720F"/>
<circle cx="450.24" cy="63.5" r="1.45" fill="#E8720F"/>
<circle cx="450.24" cy="65.4" r="1.45" fill="#E8720F"/>
<circle cx="450.24" cy="68.6" r="1.45" fill="#E8720F"/>
<polygon points="458.5075,52.276875000000004 462.1325,52.276875000000004 460.32,49.123125" fill="#E8720F"/>
<polygon points="458.5075,64.376875 462.1325,64.376875 460.32,61.223124999999996" fill="#E8720F"/>
<polygon points="458.5075,69.276875 462.1325,69.276875 460.32,66.123125" fill="#E8720F"/>
<circle cx="470.4" cy="65.4" r="1.45" fill="#159AC0"/>
<circle cx="470.4" cy="67.3" r="1.45" fill="#159AC0"/>
<circle cx="470.4" cy="69.2" r="1.45" fill="#159AC0"/>
<circle cx="470.4" cy="71.0" r="1.45" fill="#159AC0"/>
<circle cx="470.4" cy="73.0" r="1.45" fill="#159AC0"/>
<polygon points="478.6675,64.376875 482.2925,64.376875 480.48,61.223124999999996" fill="#159AC0"/>
<polygon points="478.6675,66.376875 482.2925,66.376875 480.48,63.223124999999996" fill="#159AC0"/>
<polygon points="478.6675,68.576875 482.2925,68.576875 480.48,65.423125" fill="#159AC0"/>
<polygon points="478.6675,70.776875 482.2925,70.776875 480.48,67.623125" fill="#159AC0"/>
<polygon points="478.6675,72.676875 482.2925,72.676875 480.48,69.523125" fill="#159AC0"/>
<circle cx="490.56" cy="68.5" r="1.45" fill="#4a4a4a"/>
<circle cx="490.56" cy="70.2" r="1.45" fill="#4a4a4a"/>
<circle cx="490.56" cy="72.0" r="1.45" fill="#4a4a4a"/>
<circle cx="490.56" cy="73.7" r="1.45" fill="#4a4a4a"/>
<circle cx="490.56" cy="75.3" r="1.45" fill="#4a4a4a"/>
<polygon points="498.8275,68.276875 502.4525,68.276875 500.64,65.123125" fill="#4a4a4a"/>
<polygon points="498.8275,70.576875 502.4525,70.576875 500.64,67.423125" fill="#4a4a4a"/>
<polygon points="498.8275,72.576875 502.4525,72.576875 500.64,69.423125" fill="#4a4a4a"/>
<polygon points="498.8275,74.776875 502.4525,74.776875 500.64,71.623125" fill="#4a4a4a"/>
<polygon points="498.8275,76.876875 502.4525,76.876875 500.64,73.723125" fill="#4a4a4a"/>
<circle cx="510.72" cy="68.5" r="1.45" fill="#E8720F"/>
<circle cx="510.72" cy="69.5" r="1.45" fill="#E8720F"/>
<polygon points="518.9875,63.176875 522.6125,63.176875 520.8,60.023125" fill="#E8720F"/>
<polygon points="518.9875,70.676875 522.6125,70.676875 520.8,67.523125" fill="#E8720F"/>
<polygon points="518.9875,72.976875 522.6125,72.976875 520.8,69.823125" fill="#E8720F"/>
<circle cx="530.88" cy="71.4" r="1.45" fill="#159AC0"/>
<circle cx="530.88" cy="72.5" r="1.45" fill="#159AC0"/>
<polygon points="539.1475,72.676875 542.7725,72.676875 540.96,69.523125" fill="#159AC0"/>
<polygon points="539.1475,74.076875 542.7725,74.076875 540.96,70.923125" fill="#159AC0"/>
<rect x="413.8" y="68.3" width="133.7" height="8.100000000000009" fill="#000" fill-opacity="0.15"/>
<line x1="413.8" y1="24.6" x2="413.8" y2="93.9" stroke="#3c3c3c" stroke-width="1"/>
<line x1="413.3" y1="93.4" x2="547.5" y2="93.4" stroke="#3c3c3c" stroke-width="1"/>
<line x1="411.6" y1="25.8" x2="413.8" y2="25.8" stroke="#3c3c3c" stroke-width="0.9"/>
<text x="410.2" y="28.150000000000002" font-size="6.7" font-weight="normal" fill="#4a4a4a" text-anchor="end" stroke="#4a4a4a" stroke-width="0.15" >100</text>
<line x1="411.6" y1="42.7" x2="413.8" y2="42.7" stroke="#3c3c3c" stroke-width="0.9"/>
<text x="410.2" y="45.050000000000004" font-size="6.7" font-weight="normal" fill="#4a4a4a" text-anchor="end" stroke="#4a4a4a" stroke-width="0.15" >75</text>
<line x1="411.6" y1="59.60000000000001" x2="413.8" y2="59.60000000000001" stroke="#3c3c3c" stroke-width="0.9"/>
<text x="410.2" y="61.95000000000001" font-size="6.7" font-weight="normal" fill="#4a4a4a" text-anchor="end" stroke="#4a4a4a" stroke-width="0.15" >50</text>
<line x1="411.6" y1="76.5" x2="413.8" y2="76.5" stroke="#3c3c3c" stroke-width="0.9"/>
<text x="410.2" y="78.85" font-size="6.7" font-weight="normal" fill="#4a4a4a" text-anchor="end" stroke="#4a4a4a" stroke-width="0.15" >25</text>
<line x1="411.6" y1="93.4" x2="413.8" y2="93.4" stroke="#3c3c3c" stroke-width="0.9"/>
<text x="410.2" y="95.75" font-size="6.7" font-weight="normal" fill="#4a4a4a" text-anchor="end" stroke="#4a4a4a" stroke-width="0.15" >0</text>
<line x1="430.6" y1="100.7" x2="451.1" y2="100.7" stroke="#666" stroke-width="0.8"/>
<line x1="467.8" y1="100.7" x2="481.8" y2="100.7" stroke="#666" stroke-width="0.8"/>
<text x="450.8" y="103.10000000000001" font-size="7" font-weight="normal" fill="#4a4a4a" text-anchor="start" stroke="#4a4a4a" stroke-width="0.12" textLength="17.0" lengthAdjust="spacingAndGlyphs" >day 1</text>
<line x1="490.7" y1="100.7" x2="511.40000000000003" y2="100.7" stroke="#666" stroke-width="0.8"/>
<line x1="528.8" y1="100.7" x2="542.9000000000001" y2="100.7" stroke="#666" stroke-width="0.8"/>
<text x="511.1" y="103.10000000000001" font-size="7" font-weight="normal" fill="#4a4a4a" text-anchor="start" stroke="#4a4a4a" stroke-width="0.12" textLength="17.69999999999999" lengthAdjust="spacingAndGlyphs" >day 5</text>
<rect x="257.5" y="179.5" width="8.0" height="15.199999999999989" fill="#fff" stroke="#4a4a4a" stroke-width="1"/>
<rect x="267.58" y="176.6" width="8.0" height="18.099999999999994" fill="#fff" stroke="#4a4a4a" stroke-width="1"/>
<rect x="277.66" y="176.6" width="8.0" height="18.099999999999994" fill="#fff" stroke="#4a4a4a" stroke-width="1"/>
<rect x="287.74" y="183.2" width="8.0" height="11.5" fill="#fff" stroke="#E8720F" stroke-width="1"/>
<rect x="297.82" y="176.5" width="8.0" height="18.19999999999999" fill="#fff" stroke="#E8720F" stroke-width="1"/>
<rect x="307.9" y="176.5" width="8.0" height="18.19999999999999" fill="#fff" stroke="#159AC0" stroke-width="1"/>
<rect x="317.98" y="178.2" width="8.0" height="16.5" fill="#fff" stroke="#159AC0" stroke-width="1"/>
<rect x="328.06" y="178.7" width="8.0" height="16.0" fill="#fff" stroke="#4a4a4a" stroke-width="1"/>
<rect x="338.14" y="176.6" width="8.0" height="18.099999999999994" fill="#fff" stroke="#4a4a4a" stroke-width="1"/>
<rect x="348.22" y="176.6" width="8.0" height="18.099999999999994" fill="#fff" stroke="#E8720F" stroke-width="1"/>
<rect x="358.3" y="178.7" width="8.0" height="16.0" fill="#fff" stroke="#E8720F" stroke-width="1"/>
<rect x="368.38" y="183.0" width="8.0" height="11.699999999999989" fill="#fff" stroke="#159AC0" stroke-width="1"/>
<rect x="378.46000000000004" y="183.0" width="8.0" height="11.699999999999989" fill="#fff" stroke="#159AC0" stroke-width="1"/>
<line x1="261.5" y1="176.6" x2="261.5" y2="182.4" stroke="#4a4a4a" stroke-width="0.8"/>
<line x1="260.4" y1="176.6" x2="262.6" y2="176.6" stroke="#4a4a4a" stroke-width="0.8"/>
<line x1="271.58" y1="176" x2="271.58" y2="178.5" stroke="#4a4a4a" stroke-width="0.8"/>
<line x1="270.47999999999996" y1="176" x2="272.68" y2="176" stroke="#4a4a4a" stroke-width="0.8"/>
<line x1="281.66" y1="175" x2="281.66" y2="178.5" stroke="#4a4a4a" stroke-width="0.8"/>
<line x1="280.56" y1="175" x2="282.76000000000005" y2="175" stroke="#4a4a4a" stroke-width="0.8"/>
<line x1="291.74" y1="182" x2="291.74" y2="185" stroke="#E8720F" stroke-width="0.8"/>
<line x1="290.64" y1="182" x2="292.84000000000003" y2="182" stroke="#E8720F" stroke-width="0.8"/>
<line x1="301.82" y1="171.5" x2="301.82" y2="179" stroke="#E8720F" stroke-width="0.8"/>
<line x1="300.71999999999997" y1="171.5" x2="302.92" y2="171.5" stroke="#E8720F" stroke-width="0.8"/>
<line x1="311.9" y1="171.9" x2="311.9" y2="179" stroke="#159AC0" stroke-width="0.8"/>
<line x1="310.79999999999995" y1="171.9" x2="313.0" y2="171.9" stroke="#159AC0" stroke-width="0.8"/>
<line x1="321.98" y1="175" x2="321.98" y2="180" stroke="#159AC0" stroke-width="0.8"/>
<line x1="320.88" y1="175" x2="323.08000000000004" y2="175" stroke="#159AC0" stroke-width="0.8"/>
<line x1="332.06" y1="176.6" x2="332.06" y2="180" stroke="#4a4a4a" stroke-width="0.8"/>
<line x1="330.96" y1="176.6" x2="333.16" y2="176.6" stroke="#4a4a4a" stroke-width="0.8"/>
<line x1="342.14" y1="175.4" x2="342.14" y2="178" stroke="#4a4a4a" stroke-width="0.8"/>
<line x1="341.03999999999996" y1="175.4" x2="343.24" y2="175.4" stroke="#4a4a4a" stroke-width="0.8"/>
<line x1="352.22" y1="175.5" x2="352.22" y2="178" stroke="#E8720F" stroke-width="0.8"/>
<line x1="351.12" y1="175.5" x2="353.32000000000005" y2="175.5" stroke="#E8720F" stroke-width="0.8"/>
<line x1="362.3" y1="176" x2="362.3" y2="180" stroke="#E8720F" stroke-width="0.8"/>
<line x1="361.2" y1="176" x2="363.40000000000003" y2="176" stroke="#E8720F" stroke-width="0.8"/>
<line x1="372.38" y1="181" x2="372.38" y2="185.5" stroke="#159AC0" stroke-width="0.8"/>
<line x1="371.28" y1="181" x2="373.48" y2="181" stroke="#159AC0" stroke-width="0.8"/>
<line x1="382.46000000000004" y1="181" x2="382.46000000000004" y2="185.5" stroke="#159AC0" stroke-width="0.8"/>
<line x1="381.36" y1="181" x2="383.56000000000006" y2="181" stroke="#159AC0" stroke-width="0.8"/>
<rect x="260.195" y="172.39499999999998" width="2.61" height="2.61" fill="#4a4a4a"/>
<rect x="260.195" y="179.89499999999998" width="2.61" height="2.61" fill="#4a4a4a"/>
<rect x="260.195" y="186.295" width="2.61" height="2.61" fill="#4a4a4a"/>
<circle cx="271.58" cy="173.7" r="1.45" fill="#4a4a4a"/>
<circle cx="271.58" cy="178.0" r="1.45" fill="#4a4a4a"/>
<circle cx="271.58" cy="180.6" r="1.45" fill="#4a4a4a"/>
<polygon points="279.8475,174.876875 283.4725,174.876875 281.66,171.723125" fill="#4a4a4a"/>
<polygon points="279.8475,181.576875 283.4725,181.576875 281.66,178.423125" fill="#4a4a4a"/>
<circle cx="291.74" cy="181.0" r="1.45" fill="#E8720F"/>
<circle cx="291.74" cy="185.0" r="1.45" fill="#E8720F"/>
<circle cx="291.74" cy="187.7" r="1.45" fill="#E8720F"/>
<polygon points="300.0075,168.376875 303.6325,168.376875 301.82,165.223125" fill="#E8720F"/>
<polygon points="300.0075,175.776875 303.6325,175.776875 301.82,172.623125" fill="#E8720F"/>
<polygon points="300.0075,181.876875 303.6325,181.876875 301.82,178.723125" fill="#E8720F"/>
<circle cx="311.9" cy="166.8" r="1.45" fill="#159AC0"/>
<circle cx="311.9" cy="174.2" r="1.45" fill="#159AC0"/>
<circle cx="311.9" cy="180.3" r="1.45" fill="#159AC0"/>
<polygon points="320.1675,175.076875 323.7925,175.076875 321.98,171.923125" fill="#159AC0"/>
<polygon points="320.1675,178.476875 323.7925,178.476875 321.98,175.323125" fill="#159AC0"/>
<polygon points="320.1675,183.176875 323.7925,183.176875 321.98,180.023125" fill="#159AC0"/>
<circle cx="332.06" cy="173.7" r="1.45" fill="#4a4a4a"/>
<circle cx="332.06" cy="178.7" r="1.45" fill="#4a4a4a"/>
<circle cx="332.06" cy="180.6" r="1.45" fill="#4a4a4a"/>
<polygon points="340.3275,174.676875 343.9525,174.676875 342.14,171.523125" fill="#4a4a4a"/>
<polygon points="340.3275,181.576875 343.9525,181.576875 342.14,178.423125" fill="#4a4a4a"/>
<circle cx="352.22" cy="173.7" r="1.45" fill="#E8720F"/>
<circle cx="352.22" cy="180.0" r="1.45" fill="#E8720F"/>
<polygon points="360.4875,174.876875 364.1125,174.876875 362.3,171.723125" fill="#E8720F"/>
<polygon points="360.4875,182.176875 364.1125,182.176875 362.3,179.023125" fill="#E8720F"/>
<circle cx="372.38" cy="180.0" r="1.45" fill="#159AC0"/>
<circle cx="372.38" cy="187.0" r="1.45" fill="#159AC0"/>
<polygon points="380.64750000000004,181.576875 384.27250000000004,181.576875 382.46000000000004,178.423125" fill="#159AC0"/>
<polygon points="380.64750000000004,188.576875 384.27250000000004,188.576875 382.46000000000004,185.423125" fill="#159AC0"/>
<rect x="255.0" y="167.4" width="133.5" height="20.599999999999994" fill="#000" fill-opacity="0.15"/>
<line x1="255.0" y1="125.8" x2="255.0" y2="195.2" stroke="#3c3c3c" stroke-width="1"/>
<line x1="254.5" y1="194.7" x2="388.5" y2="194.7" stroke="#3c3c3c" stroke-width="1"/>
<line x1="252.8" y1="127.0" x2="255.0" y2="127.0" stroke="#3c3c3c" stroke-width="0.9"/>
<text x="251.4" y="129.35" font-size="6.7" font-weight="normal" fill="#4a4a4a" text-anchor="end" stroke="#4a4a4a" stroke-width="0.15" >1.00</text>
<line x1="252.8" y1="143.925" x2="255.0" y2="143.925" stroke="#3c3c3c" stroke-width="0.9"/>
<text x="251.4" y="146.275" font-size="6.7" font-weight="normal" fill="#4a4a4a" text-anchor="end" stroke="#4a4a4a" stroke-width="0.15" >0.75</text>
<line x1="252.8" y1="160.85" x2="255.0" y2="160.85" stroke="#3c3c3c" stroke-width="0.9"/>
<text x="251.4" y="163.2" font-size="6.7" font-weight="normal" fill="#4a4a4a" text-anchor="end" stroke="#4a4a4a" stroke-width="0.15" >0.50</text>
<line x1="252.8" y1="177.77499999999998" x2="255.0" y2="177.77499999999998" stroke="#3c3c3c" stroke-width="0.9"/>
<text x="251.4" y="180.12499999999997" font-size="6.7" font-weight="normal" fill="#4a4a4a" text-anchor="end" stroke="#4a4a4a" stroke-width="0.15" >0.25</text>
<line x1="252.8" y1="194.7" x2="255.0" y2="194.7" stroke="#3c3c3c" stroke-width="0.9"/>
<text x="251.4" y="197.04999999999998" font-size="6.7" font-weight="normal" fill="#4a4a4a" text-anchor="end" stroke="#4a4a4a" stroke-width="0.15" >0.00</text>
<line x1="272.3" y1="201.2" x2="292.8" y2="201.2" stroke="#666" stroke-width="0.8"/>
<line x1="309.5" y1="201.2" x2="323.5" y2="201.2" stroke="#666" stroke-width="0.8"/>
<text x="292.5" y="203.6" font-size="7" font-weight="normal" fill="#4a4a4a" text-anchor="start" stroke="#4a4a4a" stroke-width="0.12" textLength="17.0" lengthAdjust="spacingAndGlyphs" >day 1</text>
<line x1="332.4" y1="201.2" x2="353.1" y2="201.2" stroke="#666" stroke-width="0.8"/>
<line x1="370.5" y1="201.2" x2="384.6" y2="201.2" stroke="#666" stroke-width="0.8"/>
<text x="352.8" y="203.6" font-size="7" font-weight="normal" fill="#4a4a4a" text-anchor="start" stroke="#4a4a4a" stroke-width="0.12" textLength="17.69999999999999" lengthAdjust="spacingAndGlyphs" >day 5</text>
<rect x="416.0" y="160.3" width="8.0" height="34.39999999999998" fill="#fff" stroke="#4a4a4a" stroke-width="1"/>
<rect x="426.08" y="153.6" width="8.0" height="41.099999999999994" fill="#fff" stroke="#4a4a4a" stroke-width="1"/>
<rect x="436.16" y="156.4" width="8.0" height="38.29999999999998" fill="#fff" stroke="#4a4a4a" stroke-width="1"/>
<rect x="446.24" y="156.2" width="8.0" height="38.5" fill="#fff" stroke="#E8720F" stroke-width="1"/>
<rect x="456.32" y="160.9" width="8.0" height="33.79999999999998" fill="#fff" stroke="#E8720F" stroke-width="1"/>
<rect x="466.4" y="161.1" width="8.0" height="33.599999999999994" fill="#fff" stroke="#159AC0" stroke-width="1"/>
<rect x="476.48" y="161.1" width="8.0" height="33.599999999999994" fill="#fff" stroke="#159AC0" stroke-width="1"/>
<rect x="486.56" y="167.0" width="8.0" height="27.69999999999999" fill="#fff" stroke="#4a4a4a" stroke-width="1"/>
<rect x="496.64" y="161.3" width="8.0" height="33.39999999999998" fill="#fff" stroke="#4a4a4a" stroke-width="1"/>
<rect x="506.72" y="158.5" width="8.0" height="36.19999999999999" fill="#fff" stroke="#E8720F" stroke-width="1"/>
<rect x="516.8" y="156.5" width="8.0" height="38.19999999999999" fill="#fff" stroke="#E8720F" stroke-width="1"/>
<rect x="526.88" y="162.5" width="8.0" height="32.19999999999999" fill="#fff" stroke="#159AC0" stroke-width="1"/>
<rect x="536.96" y="162.7" width="8.0" height="32.0" fill="#fff" stroke="#159AC0" stroke-width="1"/>
<line x1="420.0" y1="154.5" x2="420.0" y2="164" stroke="#4a4a4a" stroke-width="0.8"/>
<line x1="418.9" y1="154.5" x2="421.1" y2="154.5" stroke="#4a4a4a" stroke-width="0.8"/>
<line x1="430.08" y1="152" x2="430.08" y2="155" stroke="#4a4a4a" stroke-width="0.8"/>
<line x1="428.97999999999996" y1="152" x2="431.18" y2="152" stroke="#4a4a4a" stroke-width="0.8"/>
<line x1="440.16" y1="154" x2="440.16" y2="159" stroke="#4a4a4a" stroke-width="0.8"/>
<line x1="439.06" y1="154" x2="441.26000000000005" y2="154" stroke="#4a4a4a" stroke-width="0.8"/>
<line x1="450.24" y1="155.5" x2="450.24" y2="157" stroke="#E8720F" stroke-width="0.8"/>
<line x1="449.14" y1="155.5" x2="451.34000000000003" y2="155.5" stroke="#E8720F" stroke-width="0.8"/>
<line x1="460.32" y1="157.5" x2="460.32" y2="164" stroke="#E8720F" stroke-width="0.8"/>
<line x1="459.21999999999997" y1="157.5" x2="461.42" y2="157.5" stroke="#E8720F" stroke-width="0.8"/>
<line x1="470.4" y1="155" x2="470.4" y2="166" stroke="#159AC0" stroke-width="0.8"/>
<line x1="469.29999999999995" y1="155" x2="471.5" y2="155" stroke="#159AC0" stroke-width="0.8"/>
<line x1="480.48" y1="160" x2="480.48" y2="162" stroke="#159AC0" stroke-width="0.8"/>
<line x1="479.38" y1="160" x2="481.58000000000004" y2="160" stroke="#159AC0" stroke-width="0.8"/>
<line x1="490.56" y1="166.5" x2="490.56" y2="167.5" stroke="#4a4a4a" stroke-width="0.8"/>
<line x1="489.46" y1="166.5" x2="491.66" y2="166.5" stroke="#4a4a4a" stroke-width="0.8"/>
<line x1="500.64" y1="160.5" x2="500.64" y2="163" stroke="#4a4a4a" stroke-width="0.8"/>
<line x1="499.53999999999996" y1="160.5" x2="501.74" y2="160.5" stroke="#4a4a4a" stroke-width="0.8"/>
<line x1="510.72" y1="156.2" x2="510.72" y2="160.8" stroke="#E8720F" stroke-width="0.8"/>
<line x1="509.62" y1="156.2" x2="511.82000000000005" y2="156.2" stroke="#E8720F" stroke-width="0.8"/>
<line x1="520.8" y1="155" x2="520.8" y2="158" stroke="#E8720F" stroke-width="0.8"/>
<line x1="519.6999999999999" y1="155" x2="521.9" y2="155" stroke="#E8720F" stroke-width="0.8"/>
<line x1="530.88" y1="161" x2="530.88" y2="164" stroke="#159AC0" stroke-width="0.8"/>
<line x1="529.78" y1="161" x2="531.98" y2="161" stroke="#159AC0" stroke-width="0.8"/>
<line x1="540.96" y1="162" x2="540.96" y2="163.5" stroke="#159AC0" stroke-width="0.8"/>
<line x1="539.86" y1="162" x2="542.0600000000001" y2="162" stroke="#159AC0" stroke-width="0.8"/>
<rect x="418.695" y="149.495" width="2.61" height="2.61" fill="#4a4a4a"/>
<rect x="418.695" y="153.39499999999998" width="2.61" height="2.61" fill="#4a4a4a"/>
<rect x="418.695" y="156.295" width="2.61" height="2.61" fill="#4a4a4a"/>
<rect x="418.695" y="159.095" width="2.61" height="2.61" fill="#4a4a4a"/>
<rect x="418.695" y="161.89499999999998" width="2.61" height="2.61" fill="#4a4a4a"/>
<rect x="418.695" y="167.995" width="2.61" height="2.61" fill="#4a4a4a"/>
<circle cx="430.08" cy="150.8" r="1.45" fill="#4a4a4a"/>
<circle cx="430.08" cy="152.5" r="1.45" fill="#4a4a4a"/>
<circle cx="430.08" cy="154.5" r="1.45" fill="#4a4a4a"/>
<circle cx="430.08" cy="156.4" r="1.45" fill="#4a4a4a"/>
<polygon points="438.3475,154.076875 441.9725,154.076875 440.16,150.923125" fill="#4a4a4a"/>
<polygon points="438.3475,157.576875 441.9725,157.576875 440.16,154.423125" fill="#4a4a4a"/>
<polygon points="438.3475,160.076875 441.9725,160.076875 440.16,156.923125" fill="#4a4a4a"/>
<polygon points="438.3475,162.476875 441.9725,162.476875 440.16,159.323125" fill="#4a4a4a"/>
<circle cx="450.24" cy="155.5" r="1.45" fill="#E8720F"/>
<circle cx="450.24" cy="156.5" r="1.45" fill="#E8720F"/>
<polygon points="458.5075,155.176875 462.1325,155.176875 460.32,152.023125" fill="#E8720F"/>
<polygon points="458.5075,164.176875 462.1325,164.176875 460.32,161.023125" fill="#E8720F"/>
<polygon points="458.5075,166.376875 462.1325,166.376875 460.32,163.223125" fill="#E8720F"/>
<circle cx="470.4" cy="154.2" r="1.45" fill="#159AC0"/>
<circle cx="470.4" cy="156.4" r="1.45" fill="#159AC0"/>
<circle cx="470.4" cy="158.7" r="1.45" fill="#159AC0"/>
<circle cx="470.4" cy="169.3" r="1.45" fill="#159AC0"/>
<polygon points="478.6675,160.776875 482.2925,160.776875 480.48,157.623125" fill="#159AC0"/>
<polygon points="478.6675,162.576875 482.2925,162.576875 480.48,159.423125" fill="#159AC0"/>
<polygon points="478.6675,163.576875 482.2925,163.576875 480.48,160.423125" fill="#159AC0"/>
<circle cx="490.56" cy="167.0" r="1.45" fill="#4a4a4a"/>
<polygon points="498.8275,161.176875 502.4525,161.176875 500.64,158.023125" fill="#4a4a4a"/>
<polygon points="498.8275,163.576875 502.4525,163.576875 500.64,160.423125" fill="#4a4a4a"/>
<polygon points="498.8275,166.376875 502.4525,166.376875 500.64,163.223125" fill="#4a4a4a"/>
<circle cx="510.72" cy="153.5" r="1.45" fill="#E8720F"/>
<circle cx="510.72" cy="156.0" r="1.45" fill="#E8720F"/>
<circle cx="510.72" cy="159.0" r="1.45" fill="#E8720F"/>
<circle cx="510.72" cy="161.1" r="1.45" fill="#E8720F"/>
<polygon points="518.9875,156.076875 522.6125,156.076875 520.8,152.923125" fill="#E8720F"/>
<polygon points="518.9875,158.076875 522.6125,158.076875 520.8,154.923125" fill="#E8720F"/>
<polygon points="518.9875,158.876875 522.6125,158.876875 520.8,155.723125" fill="#E8720F"/>
<circle cx="530.88" cy="160.4" r="1.45" fill="#159AC0"/>
<circle cx="530.88" cy="162.5" r="1.45" fill="#159AC0"/>
<circle cx="530.88" cy="165.3" r="1.45" fill="#159AC0"/>
<polygon points="539.1475,164.076875 542.7725,164.076875 540.96,160.923125" fill="#159AC0"/>
<polygon points="539.1475,164.576875 542.7725,164.576875 540.96,161.423125" fill="#159AC0"/>
<rect x="413.9" y="150.5" width="133.60000000000002" height="13.099999999999994" fill="#000" fill-opacity="0.15"/>
<line x1="413.9" y1="125.8" x2="413.9" y2="195.2" stroke="#3c3c3c" stroke-width="1"/>
<line x1="413.4" y1="194.7" x2="547.5" y2="194.7" stroke="#3c3c3c" stroke-width="1"/>
<line x1="411.7" y1="127.0" x2="413.9" y2="127.0" stroke="#3c3c3c" stroke-width="0.9"/>
<text x="410.29999999999995" y="129.35" font-size="6.7" font-weight="normal" fill="#4a4a4a" text-anchor="end" stroke="#4a4a4a" stroke-width="0.15" >50</text>
<line x1="411.7" y1="140.54" x2="413.9" y2="140.54" stroke="#3c3c3c" stroke-width="0.9"/>
<text x="410.29999999999995" y="142.89" font-size="6.7" font-weight="normal" fill="#4a4a4a" text-anchor="end" stroke="#4a4a4a" stroke-width="0.15" >40</text>
<line x1="411.7" y1="154.07999999999998" x2="413.9" y2="154.07999999999998" stroke="#3c3c3c" stroke-width="0.9"/>
<text x="410.29999999999995" y="156.42999999999998" font-size="6.7" font-weight="normal" fill="#4a4a4a" text-anchor="end" stroke="#4a4a4a" stroke-width="0.15" >30</text>
<line x1="411.7" y1="167.62" x2="413.9" y2="167.62" stroke="#3c3c3c" stroke-width="0.9"/>
<text x="410.29999999999995" y="169.97" font-size="6.7" font-weight="normal" fill="#4a4a4a" text-anchor="end" stroke="#4a4a4a" stroke-width="0.15" >20</text>
<line x1="411.7" y1="181.16" x2="413.9" y2="181.16" stroke="#3c3c3c" stroke-width="0.9"/>
<text x="410.29999999999995" y="183.51" font-size="6.7" font-weight="normal" fill="#4a4a4a" text-anchor="end" stroke="#4a4a4a" stroke-width="0.15" >10</text>
<line x1="411.7" y1="194.7" x2="413.9" y2="194.7" stroke="#3c3c3c" stroke-width="0.9"/>
<text x="410.29999999999995" y="197.04999999999998" font-size="6.7" font-weight="normal" fill="#4a4a4a" text-anchor="end" stroke="#4a4a4a" stroke-width="0.15" >0</text>
<line x1="430.6" y1="201.2" x2="451.1" y2="201.2" stroke="#666" stroke-width="0.8"/>
<line x1="467.8" y1="201.2" x2="481.8" y2="201.2" stroke="#666" stroke-width="0.8"/>
<text x="450.8" y="203.6" font-size="7" font-weight="normal" fill="#4a4a4a" text-anchor="start" stroke="#4a4a4a" stroke-width="0.12" textLength="17.0" lengthAdjust="spacingAndGlyphs" >day 1</text>
<line x1="490.7" y1="201.2" x2="511.40000000000003" y2="201.2" stroke="#666" stroke-width="0.8"/>
<line x1="528.8" y1="201.2" x2="542.9000000000001" y2="201.2" stroke="#666" stroke-width="0.8"/>
<text x="511.1" y="203.6" font-size="7" font-weight="normal" fill="#4a4a4a" text-anchor="start" stroke="#4a4a4a" stroke-width="0.12" textLength="17.69999999999999" lengthAdjust="spacingAndGlyphs" >day 5</text>
<text x="305.9" y="21.8" font-size="7.2" font-weight="bold" fill="#000" text-anchor="start" textLength="32" lengthAdjust="spacingAndGlyphs" >AST (U/L)</text>
<text x="465.0" y="21.8" font-size="7.2" font-weight="bold" fill="#000" text-anchor="start" textLength="31.1" lengthAdjust="spacingAndGlyphs" >ALT (U/L)</text>
<text x="301.2" y="122.7" font-size="7.2" font-weight="bold" fill="#000" text-anchor="start" textLength="42" lengthAdjust="spacingAndGlyphs" >TBIL (mg/dL)</text>
<text x="459.7" y="122.7" font-size="7.2" font-weight="bold" fill="#000" text-anchor="start" textLength="42.6" lengthAdjust="spacingAndGlyphs" >BUN (mg/dL)</text>
<line x1="419.3" y1="32.3" x2="460.2" y2="32.3" stroke="#222" stroke-width="1"/>
<polygon points="435.40,27.05 435.97,28.21 437.25,28.39 436.33,29.30 436.55,30.57 435.40,29.97 434.25,30.57 434.47,29.30 433.55,28.39 434.83,28.21" fill="#111"/>
<polygon points="439.90,27.05 440.47,28.21 441.75,28.39 440.83,29.30 441.05,30.57 439.90,29.97 438.75,30.57 438.97,29.30 438.05,28.39 439.33,28.21" fill="#111"/>
<line x1="419.3" y1="42.3" x2="449.4" y2="42.3" stroke="#222" stroke-width="1"/>
<polygon points="435.40,36.95 435.97,38.11 437.25,38.29 436.33,39.20 436.55,40.47 435.40,39.87 434.25,40.47 434.47,39.20 433.55,38.29 434.83,38.11" fill="#111"/>
<rect x="292.09999999999997" y="222.39999999999998" width="3.6" height="3.6" fill="#404040"/>
<text x="301.7" y="227.7" font-size="8.9" font-weight="normal" fill="#2b2b2b" text-anchor="start" stroke="#2b2b2b" stroke-width="0.2" textLength="81.3" lengthAdjust="spacingAndGlyphs" >control (no injection)</text>
<circle cx="391.5" cy="224.5" r="1.8" fill="#404040"/>
<text x="399.1" y="227.7" font-size="8.9" font-weight="normal" fill="#2b2b2b" text-anchor="start" stroke="#2b2b2b" stroke-width="0.2" textLength="37.5" lengthAdjust="spacingAndGlyphs" >PBS-HLV</text>
<polygon points="443.09999999999997,226.201 447.7,226.201 445.4,222.19899999999998" fill="#404040"/>
<text x="453.6" y="227.7" font-size="8.9" font-weight="normal" fill="#2b2b2b" text-anchor="start" stroke="#2b2b2b" stroke-width="0.2" textLength="30.6" lengthAdjust="spacingAndGlyphs" >PBS-IM</text>
<circle cx="293.5" cy="240.9" r="1.9" fill="#E8720F"/>
<text x="301.6" y="244.2" font-size="8.9" font-weight="normal" fill="#2b2b2b" text-anchor="start" stroke="#2b2b2b" stroke-width="0.2" textLength="37.7" lengthAdjust="spacingAndGlyphs" >LNP-HLV</text>
<polygon points="351.85,243.73149999999998 356.75,243.73149999999998 354.3,239.4685" fill="#E8720F"/>
<text x="362.7" y="245.3" font-size="8.9" font-weight="normal" fill="#2b2b2b" text-anchor="start" stroke="#2b2b2b" stroke-width="0.2" textLength="30.0" lengthAdjust="spacingAndGlyphs" >LNP-IM</text>
<circle cx="406.4" cy="241.9" r="1.9" fill="#159AC0"/>
<text x="414.2" y="245.1" font-size="8.9" font-weight="normal" fill="#2b2b2b" text-anchor="start" stroke="#2b2b2b" stroke-width="0.2" textLength="48.8" lengthAdjust="spacingAndGlyphs" >micelle-HLV</text>
<polygon points="471.59999999999997,244.501 476.2,244.501 473.9,240.499" fill="#159AC0"/>
<text x="482.2" y="246.2" font-size="8.9" font-weight="normal" fill="#2b2b2b" text-anchor="start" stroke="#2b2b2b" stroke-width="0.2" textLength="40.7" lengthAdjust="spacingAndGlyphs" >micelle-IM</text>
</svg>
</body></html>
